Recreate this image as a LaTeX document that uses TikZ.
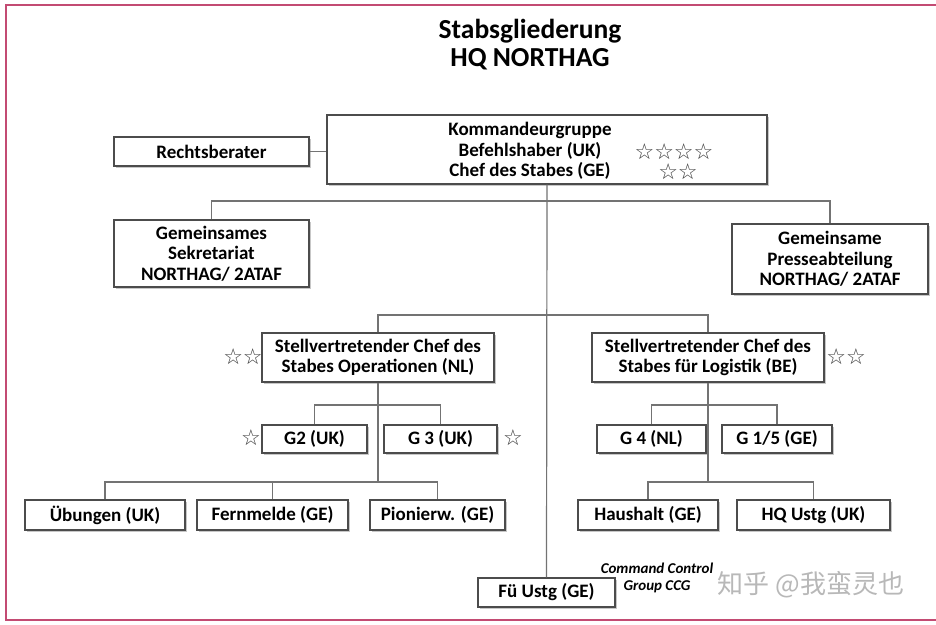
\documentclass[tikz,border=0pt]{standalone}
\usepackage{fontspec}
\setmainfont{Carlito}
\newfontfamily\starfont{DejaVu Sans}
\newfontfamily\cjkfont{Noto Sans CJK SC}
\usetikzlibrary{shadows}
\definecolor{frame}{RGB}{195,75,115}
\newcommand\mybox[6]{\node[box, minimum width={#4-#2}, minimum height={#5-#3}] (#1) at ({(#2+#4)/2},{(#3+#5)/2}) {#6};}
\begin{document}
\begin{tikzpicture}[x=1pt,y=-1pt,
 box/.style={draw=black!70, line width=1.3pt, fill=white, inner sep=0pt, font=\fontsize{19}{20.5}\selectfont\bfseries, align=center,
   drop shadow={shadow xshift=1.6pt, shadow yshift=-1.6pt, fill=black!22, opacity=1}},
 link/.style={draw=black!55, line width=1.2pt},
 star/.style={font=\starfont\bfseries\fontsize{22}{22}\selectfont, text=black!75, inner sep=0pt},
 lbl/.style={font=\fontsize{19}{20.5}\selectfont\bfseries, align=center, inner sep=0pt}]
\useasboundingbox (0,0) rectangle (936,624);
\fill[white] (0,0) rectangle (936,624);
\draw[frame, line width=1.5pt] (940,5) -- (6,5) -- (6,620) -- (940,620);

% title
\node[font=\fontsize{27.5}{28}\selectfont\bfseries, align=center, inner sep=0pt] (title) at (530,45) {Stabsgliederung\\HQ NORTHAG};

% boxes
\mybox{kom}{327}{115}{767}{184}{}
\node[lbl] (komtxt) at (530,151) {Kommandeurgruppe\\Befehlshaber (UK)\\Chef des Stabes (GE)};
\node[star] (s4) at (674,152) {☆☆☆☆};
\node[star] (s2) at (678,172) {☆☆};
\mybox{recht}{114}{137}{309}{166}{Rechtsberater}
\mybox{sek}{114}{220}{309}{287}{Gemeinsames\\Sekretariat\\NORTHAG/ 2ATAF}
\mybox{presse}{732}{224}{928}{294}{Gemeinsame\\Presseabteilung\\NORTHAG/ 2ATAF}
\mybox{sops}{262}{333}{494}{382}{Stellvertretender Chef des\\Stabes Operationen (NL)}
\mybox{slog}{592}{333}{824}{382}{Stellvertretender Chef des\\Stabes für Logistik (BE)}
\node[star] (sopsstar) at (243,357) {☆☆};
\node[star] (slogstar) at (846,357) {☆☆};
\mybox{gzwei}{262}{425}{367}{453}{G2 (UK)}
\mybox{gdrei}{384}{425}{497}{453}{G 3 (UK)}
\node[star] (g2star) at (251,438) {☆};
\node[star] (g3star) at (513,438) {☆};
\mybox{gvier}{597}{425}{706}{453}{G 4 (NL)}
\mybox{gfuenf}{722}{425}{832}{453}{G 1/5 (GE)}
\mybox{ueb}{25}{500}{185}{530}{Übungen (UK)}
\mybox{fern}{197}{500}{348}{530}{Fernmelde (GE)}
\mybox{pion}{370}{500}{505}{530}{Pionierw. (GE)}
\mybox{haus}{578}{500}{718}{530}{Haushalt (GE)}
\mybox{hqu}{737}{500}{890}{530}{HQ Ustg (UK)}
\mybox{fue}{478}{578}{615}{607}{Fü Ustg (GE)}

\node[font=\fontsize{15}{17}\selectfont\bfseries\itshape, align=center, inner sep=0pt] (ccg) at (657,578) {Command Control\\Group CCG};
\node[font=\cjkfont\fontsize{26}{28}\selectfont, text=black!28, inner sep=0pt] (wm) at (811,585) {知乎 @我蛮灵也};

% connectors
\coordinate (b1) at (547,201);
\coordinate (b2) at (547,315);
\coordinate (b3) at (378,405);
\coordinate (b4) at (378,482);
\coordinate (b5) at (708,405);
\coordinate (b6) at (708,482);
\draw[link] (recht.east) -- (recht.east -| kom.west);
\draw[link] (kom.south) -- (fue.north);
\draw[link] (sek.north) |- (b1) -| (presse.north);
\draw[link] (sops.north) |- (b2) -| (slog.north);
\draw[link] (sops.south) -- (b4);
\draw[link] (slog.south) -- (b6);
\draw[link] (gzwei.north) |- (b3) -| (gdrei.north);
\draw[link] (gvier.north) |- (b5) -| (gfuenf.north);
\draw[link] (ueb.north) |- (b4) -| (pion.north);
\draw[link] (fern.north) -- (fern.north |- b4);
\draw[link] (haus.north) |- (b6) -| (hqu.north);
\end{tikzpicture}
\end{document}
